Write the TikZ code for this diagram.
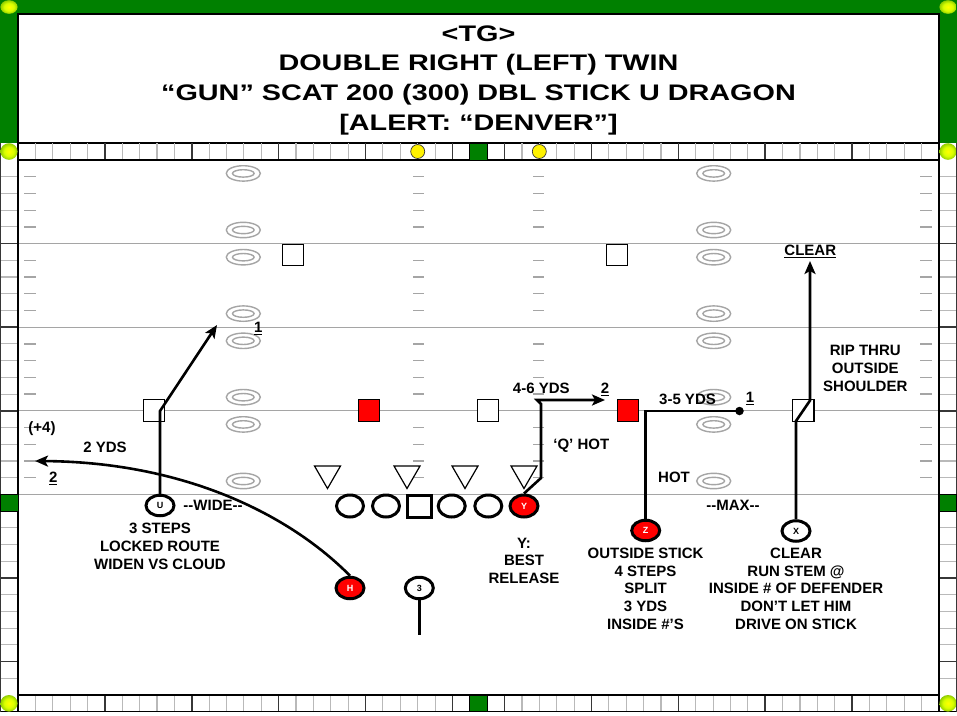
\documentclass[tikz,border=0pt]{standalone}
\usepackage{fontspec}
\setmainfont{Liberation Sans}
\usepackage{graphicx}
\usetikzlibrary{arrows.meta,shapes.geometric}
\definecolor{fgreen}{RGB}{0,128,0}
\definecolor{lgray}{RGB}{165,165,165}
\definecolor{cellgray}{RGB}{185,185,185}
\definecolor{darkline}{RGB}{55,55,55}
\definecolor{pred}{RGB}{255,0,0}
\pgfdeclareradialshading{cdot}{\pgfpoint{0bp}{0bp}}{color(0bp)=(yellow); color(14bp)=(yellow!85!green); color(30bp)=(yellow!45!fgreen); color(50bp)=(fgreen)}
\begin{document}
\begin{tikzpicture}[x=1pt,y=-1pt,
 lbl/.style={font=\fontsize{15}{17.7}\selectfont\bfseries, inner sep=0pt, anchor=base, align=center},
 ttl/.style={font=\fontsize{22.5}{22.5}\selectfont\bfseries, inner sep=0pt, anchor=base},
 fieldline/.style={draw=lgray, line width=1.3pt},
 hashtick/.style={draw=lgray, line width=1.3pt},
 numoval/.style={draw=lgray, line width=1.4pt},
 cellthin/.style={draw=cellgray, line width=1.1pt},
 cellthick/.style={draw=darkline, line width=1.5pt},
 defsq/.style={rectangle, draw=black, line width=1.4pt, fill=white, minimum size=21.5pt, inner sep=0pt},
 redsq/.style={defsq, fill=pred},
 deftri/.style={regular polygon, regular polygon sides=3, shape border rotate=180, draw=black, line width=1.2pt, minimum size=30pt, inner sep=0pt},
 oline/.style={ellipse, draw=black, line width=3pt, minimum width=27pt, minimum height=22pt, inner sep=0pt, fill=white},
 olcenter/.style={rectangle, draw=black, line width=3pt, minimum width=24pt, minimum height=22pt, inner sep=0pt, fill=white},
 skill/.style={ellipse, draw=black, line width=3pt, minimum width=28pt, minimum height=20.5pt, inner sep=0pt, fill=white, font=\fontsize{9}{9}\selectfont\bfseries},
 redskill/.style={skill, fill=pred, text=white},
 route/.style={draw=black, line width=2.6pt, line join=miter},
 arr/.style={-{Stealth[length=13pt,width=11pt,inset=3pt]}},
 cornerdot/.style={shading=cdot}
]
\useasboundingbox (0,0) rectangle (957,715);
\fill[white] (0,0) rectangle (957,715);
% green frame of title
\fill[fgreen] (0,0) rectangle (957,14);
\fill[fgreen] (0,14) rectangle (18,143);
\fill[fgreen] (939,14) rectangle (957,143);
\draw[black, line width=1.3pt] (18,14) rectangle (939,143);
% field lines
\foreach \y in {243.6,327.2,410.8,494.4} \draw[fieldline] (18,\y) -- (939,\y);
\foreach \k in {1,...,19} {
  \pgfmathtruncatemacro\m{mod(\k,5)}
  \ifnum\m>0
    \pgfmathsetmacro\yy{160+\k*16.719}
    \draw[hashtick] (24,\yy) -- (36,\yy);
    \draw[hashtick] (413,\yy) -- (424,\yy);
    \draw[hashtick] (533,\yy) -- (544,\yy);
    \draw[hashtick] (920,\yy) -- (932,\yy);
  \fi
}
\foreach \y in {173.4,230,257.2,313.6,340.8,397.2,424.4,481} {
  \foreach \x in {243.3,713.7} {
    \draw[numoval] (\x,\y) ellipse [x radius=17, y radius=7.7];
    \draw[numoval] (\x,\y) ellipse [x radius=10.8, y radius=3.7];
  }
}
% top and bottom hash bands
\foreach \i in {1,...,52} {
  \pgfmathsetmacro\xx{18+\i*17.3774}
  \draw[cellthin] (\xx,143) -- (\xx,160);
  \draw[cellthin] (\xx,695) -- (\xx,711.7);
}
\foreach \i in {5,10,15,20,25,28,33,38,43,48} {
  \pgfmathsetmacro\xx{18+\i*17.3774}
  \draw[cellthick] (\xx,143) -- (\xx,160);
  \draw[cellthick] (\xx,695) -- (\xx,711.7);
}
\draw[black, line width=1.3pt] (18,160) -- (939,160);
\draw[black, line width=1.3pt] (18,695) -- (939,695);
\draw[black, line width=1.3pt] (0,711.7) -- (957,711.7);
% side columns
\foreach \j in {1,...,31} {
  \pgfmathsetmacro\yy{160+\j*16.719}
  \draw[cellthin] (0.7,\yy) -- (18,\yy);
  \draw[cellthin] (939,\yy) -- (956.3,\yy);
}
\foreach \j in {5,10,15,25,30} {
  \pgfmathsetmacro\yy{160+\j*16.719}
  \draw[cellthick] (0.7,\yy) -- (18,\yy);
  \draw[cellthick] (939,\yy) -- (956.3,\yy);
}
\draw[darkline, line width=1.3pt] (0.7,143) -- (0.7,711.7);
\draw[darkline, line width=1.3pt] (956.3,143) -- (956.3,711.7);
\draw[black, line width=1.3pt] (18,143) -- (18,711.7);
\draw[black, line width=1.3pt] (939,143) -- (939,711.7);
% green cells
\filldraw[fill=fgreen, draw=black, line width=1pt] (469.8,143) rectangle (487.2,160);
\filldraw[fill=fgreen, draw=black, line width=1pt] (469.8,695) rectangle (487.2,711.7);
\filldraw[fill=fgreen, draw=black, line width=1pt] (0.7,494.4) rectangle (18,511.1);
\filldraw[fill=fgreen, draw=black, line width=1pt] (939,494.4) rectangle (956.3,511.1);
% yellow dots
\filldraw[fill=yellow, draw=darkline, line width=0.7pt] (417.7,151.5) circle [radius=7];
\filldraw[fill=yellow, draw=darkline, line width=0.7pt] (539.3,151.5) circle [radius=7];
% corner dots
\foreach \cx in {9,948} {
  \shade[cornerdot] (\cx,7) ellipse [x radius=8.6, y radius=6.8];
  \shade[cornerdot] (\cx,151.5) ellipse [x radius=8.6, y radius=8.3];
  \shade[cornerdot] (\cx,703.3) ellipse [x radius=8.6, y radius=8.3];
}
% title
\node[ttl] (t1) at (478.5,41.3) {\scalebox{1.28}[1]{<TG>}};
\node[ttl] (t2) at (478.5,70.5) {\scalebox{1.28}[1]{DOUBLE RIGHT (LEFT) TWIN}};
\node[ttl] (t3) at (478.5,100.5) {\scalebox{1.28}[1]{“GUN” SCAT 200 (300) DBL STICK U DRAGON}};
\node[ttl] (t4) at (478.5,130) {\scalebox{1.28}[1]{[ALERT: “DENVER”]}};
% defenders
\node[defsq] (d1) at (293,255) {};
\node[defsq] (d2) at (617,255) {};
\node[defsq] (d3) at (154,410.5) {};
\node[redsq] (d4) at (369,410.5) {};
\node[defsq] (d5) at (488,410.5) {};
\node[redsq] (d6) at (628,410.5) {};
\node[defsq] (d7) at (803.3,410.5) {};
\node[deftri] (dl1) at (327.5,473.5) {};
\node[deftri] (dl2) at (407,473.5) {};
\node[deftri] (dl3) at (465,473.5) {};
\node[deftri] (dl4) at (524,473.5) {};
% offense
\node[oline] (lt) at (350,506) {};
\node[oline] (lg) at (386,506) {};
\node[olcenter] (c) at (419.3,506) {};
\node[oline] (rg) at (451.7,506) {};
\node[oline] (rt) at (488.3,506) {};
\node[redskill, minimum height=22pt] (Y) at (524,506) {Y};
\node[skill] (U) at (160,505.5) {U};
\node[redskill, minimum height=21.5pt] (H) at (350,588) {H};
\node[skill, minimum height=21.5pt] (Q) at (419.3,588) {3};
\node[redskill] (Z) at (645.7,530.5) {Z};
\node[skill] (X) at (796,531) {X};
% route points
\coordinate (uBend) at (160,411);
\coordinate (uEnd) at (217,325);
\coordinate (hEnd) at (35,461);
\coordinate (yB1) at (541,478);
\coordinate (yB2) at (541,404);
\coordinate (yB3) at (537,400);
\coordinate (yEnd) at (605,400);
\coordinate (zBend) at (645.7,411);
\node[circle, fill=black, inner sep=0pt, minimum size=8.5pt] (zDot) at (739.5,411) {};
\coordinate (xB1) at (796,421);
\coordinate (xB2) at (810,400.5);
\coordinate (xEnd) at (810,261);
\coordinate (qEnd) at (419.3,635);
% routes
\draw[route, arr] (U.north) -- (uBend) -- (uEnd);
\draw[route, arr] (H.north) .. controls (290,515) and (185,462) .. (hEnd);
\draw[route, arr] (Y.north) -- (yB1) -- (yB2) -- (yB3) -- (yEnd);
\draw[route] (Z.north) -- (zBend) -- (zDot.center);
\draw[route, arr] (X.north) -- (xB1) -- (xB2) -- (xEnd);
\draw[route] (Q.south) -- (qEnd);
% labels (multi-line nodes: base = last line's baseline)
\node[lbl] (l1) at (258.3,332.5) {\underline{1}};
\node[lbl] (l2) at (42,432.7) {(+4)};
\node[lbl] (l3) at (105,452.4) {2 YDS};
\node[lbl] (l4) at (53.3,482.4) {\underline{2}};
\node[lbl] (l5) at (213,510.4) {-{}-WIDE-{}-};
\node[lbl] (l6) at (160,569.1) {3 STEPS\\LOCKED ROUTE\\WIDEN VS CLOUD};
\node[lbl] (l7) at (524,583.6) {Y:\\BEST\\RELEASE};
\node[lbl] (l8) at (645.5,629.2) {OUTSIDE STICK\\4 STEPS\\SPLIT\\3 YDS\\INSIDE \#’S};
\node[lbl] (l9) at (796,629.2) {CLEAR\\RUN STEM @\\INSIDE \# OF DEFENDER\\DON’T LET HIM\\DRIVE ON STICK};
\node[lbl] (l10) at (733,510.7) {-{}-MAX-{}-};
\node[lbl] (l11) at (674,482.1) {HOT};
\node[lbl] (l12) at (687.5,404.1) {3-5 YDS};
\node[lbl] (l13) at (750,402.9) {\underline{1}};
\node[lbl] (l14) at (605,393.4) {\underline{2}};
\node[lbl] (l15) at (541.3,393.4) {4-6 YDS};
\node[lbl] (l16) at (581.3,449.2) {‘Q’ HOT};
\node[lbl] (l17) at (810.3,255.9) {\underline{CLEAR}};
\node[lbl] (l18) at (865.3,391.3) {RIP THRU\\OUTSIDE\\SHOULDER};
\end{tikzpicture}
\end{document}
